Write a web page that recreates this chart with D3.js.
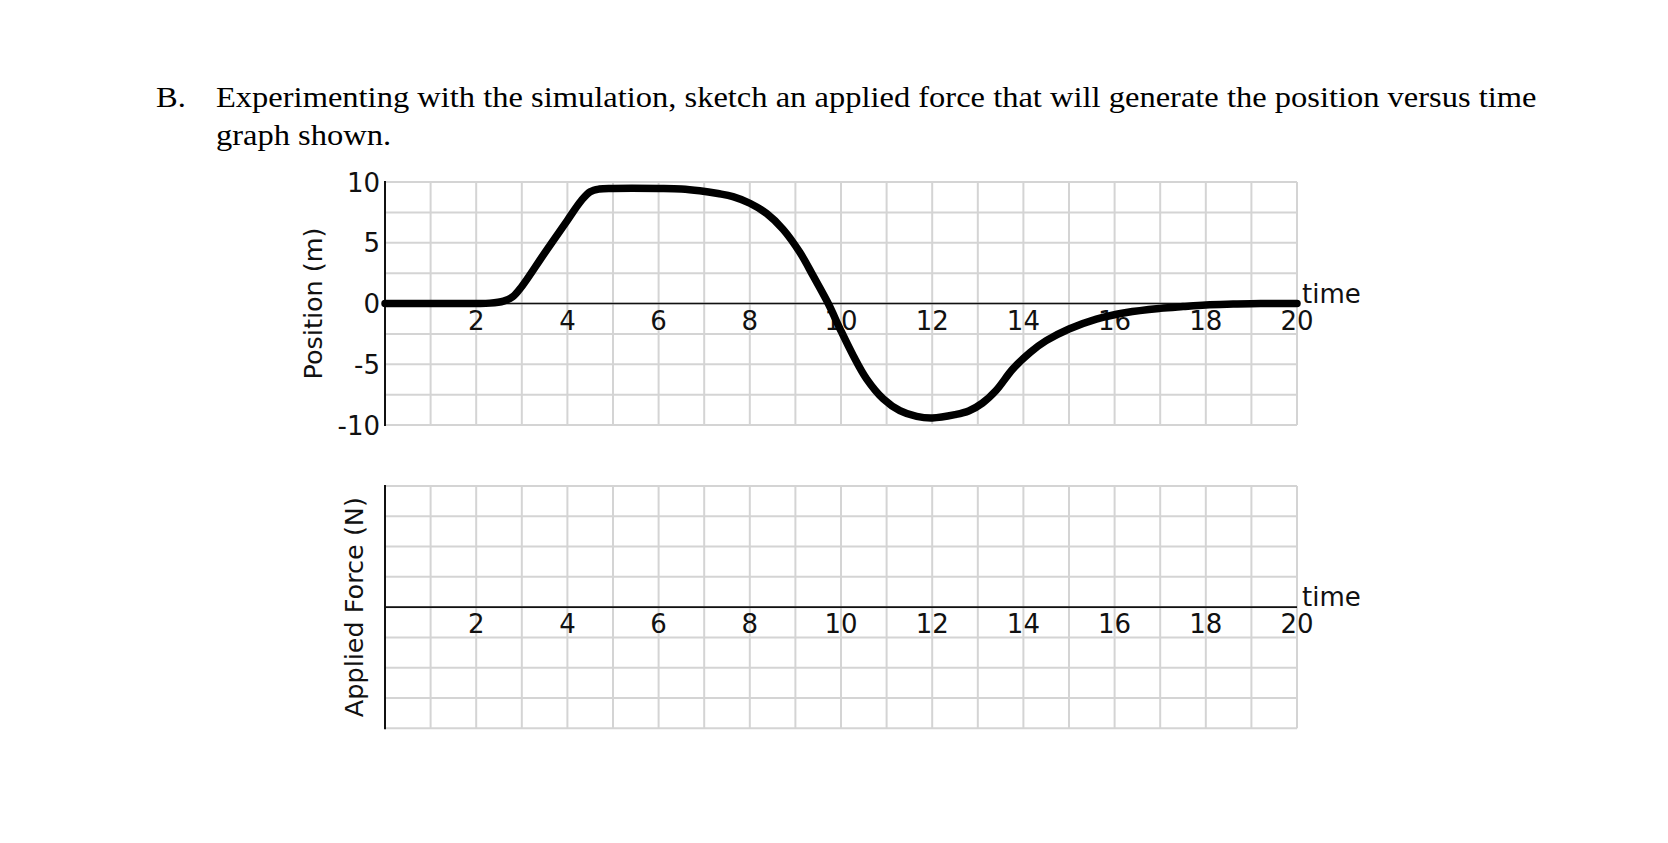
<!DOCTYPE html>
<html>
<head>
<meta charset="utf-8">
<script src="https://cdn.jsdelivr.net/npm/d3@7"></script>
<style>
  html, body { margin: 0; padding: 0; background: white; }
  svg { display: block; }
</style>
</head>
<body>
<svg id="canvas"></svg>
<script>
const WIDTH = 1668;
const HEIGHT = 843;

// Question text
const questionLabel = "B.";
const questionLines = [
    "Experimenting with the simulation, sketch an applied force that will generate the position versus time",
    "graph shown."
];

// Axes
const timeTicks = [2, 4, 6, 8, 10, 12, 14, 16, 18, 20];
const timeGrid = [0, 1, 2, 3, 4, 5, 6, 7, 8, 9, 10, 11, 12, 13, 14, 15, 16, 17, 18, 19, 20];
const positionTicks = [10, 5, 0, -5, -10];
const valueGrid = [-10, -7.5, -5, -2.5, 0, 2.5, 5, 7.5, 10];

// Position vs time
const times = [0, 1, 2, 2.3, 2.6, 2.8, 3.0, 3.5, 4.0, 4.3, 4.5, 4.7, 5.0, 6.0, 6.5, 6.9, 7.3, 7.63, 8.0, 8.37,
    8.73, 9.1, 9.39, 9.72, 9.98, 10.27, 10.56, 10.93, 11.29, 11.66, 12.0, 12.5, 12.8, 13.1, 13.4, 13.77, 14.15, 14.5, 15.0, 15.6, 16.26,
    17.0, 17.5, 18.0, 18.6, 19.2, 20.0];
const positions = [0, 0, 0, 0.03, 0.2, 0.55, 1.4, 4.15, 6.85, 8.45, 9.2, 9.42, 9.47, 9.47, 9.43, 9.28, 9.05, 8.8, 8.25, 7.4,
    6.1, 4.19, 2.27, 0, -2.1, -4.3, -6.2, -7.86, -8.82, -9.29, -9.42, -9.15, -8.85, -8.2, -7.16, -5.38, -4.02, -3.06, -2.1, -1.28, -0.74,
    -0.4, -0.25, -0.12, -0.05, 0, 0];

const svg = d3.select("svg").attr("width", WIDTH).attr("height", HEIGHT);

// Question (the scanned serif runs wider than Liberation Serif, so stretch it to the same width)
let question = svg.append("g");
question.append("text")
    .attr("x", 0).attr("y", 107)
    .attr("font-family", "Liberation Serif, Times New Roman, serif")
    .attr("font-size", 29)
    .text(questionLabel);
let firstLine;
questionLines.forEach((line, i) => {
    let t = question.append("text")
        .attr("x", 60).attr("y", 107 + i * 38)
        .attr("font-family", "Liberation Serif, Times New Roman, serif")
        .attr("font-size", 29)
        .text(line);
    if (i == 0) firstLine = t;
});
let stretch = 1321 / firstLine.node().getComputedTextLength();
question.selectAll("text").attr("x", function () {
    return +d3.select(this).attr("x") / stretch;
});
question.attr("transform", "translate(156,0) scale(" + stretch + ",1)");

const x = d3.scaleLinear().domain([0, 20]).range([385, 1297]);
const yPos = d3.scaleLinear().domain([-10, 10]).range([425, 182]);
const yForce = d3.scaleLinear().domain([-10, 10]).range([728.3, 486]);

function drawPanel(y, axisLabel, labelX, showYTicks) {
    let g = svg.append("g");
    // grid
    g.selectAll("line.v")
        .data(timeGrid)
        .enter()
        .append("line")
        .attr("x1", (d) => x(d)).attr("x2", (d) => x(d))
        .attr("y1", y(-10)).attr("y2", y(10))
        .attr("stroke", "#d4d4d4")
        .attr("stroke-width", 2);
    g.selectAll("line.h")
        .data(valueGrid)
        .enter()
        .append("line")
        .attr("x1", x(0)).attr("x2", x(20))
        .attr("y1", (d) => y(d)).attr("y2", (d) => y(d))
        .attr("stroke", "#d4d4d4")
        .attr("stroke-width", 2);
    // axes
    g.append("line")
        .attr("x1", x(0)).attr("x2", x(20))
        .attr("y1", y(0)).attr("y2", y(0))
        .attr("stroke", "#111")
        .attr("stroke-width", 1.6);
    g.append("line")
        .attr("x1", x(0)).attr("x2", x(0))
        .attr("y1", y(-10) + 1).attr("y2", y(10) - 1)
        .attr("stroke", "#111")
        .attr("stroke-width", 2);
    // time tick labels
    g.selectAll("text.tick")
        .data(timeTicks)
        .enter()
        .append("text")
        .attr("x", (d) => x(d))
        .attr("y", y(0) + 26)
        .attr("text-anchor", "middle")
        .attr("font-family", "DejaVu Sans, sans-serif")
        .attr("font-size", 26)
        .attr("fill", "#111")
        .text((d) => d);
    g.append("text")
        .attr("x", x(20) + 5)
        .attr("y", y(0) - 1)
        .attr("font-family", "DejaVu Sans, sans-serif")
        .attr("font-size", 26)
        .attr("fill", "#111")
        .text("time");
    if (showYTicks) {
        g.selectAll("text.ytick")
            .data(positionTicks)
            .enter()
            .append("text")
            .attr("x", 380)
            .attr("y", (d) => y(d) + 9.5)
            .attr("text-anchor", "end")
            .attr("font-family", "DejaVu Sans, sans-serif")
            .attr("font-size", 26)
            .attr("fill", "#111")
            .text((d) => d);
    }
    let mid = (y(-10) + y(10)) / 2;
    g.append("text")
        .attr("transform", "translate(" + labelX + "," + mid + ") rotate(-90)")
        .attr("text-anchor", "middle")
        .attr("font-family", "DejaVu Sans, sans-serif")
        .attr("font-size", 25.5)
        .attr("fill", "#111")
        .text(axisLabel);
    return g;
}

let positionPanel = drawPanel(yPos, "Position (m)", 322, true);
drawPanel(yForce, "Applied Force (N)", 363, false);

// position curve
let curve = d3.line()
    .x((d) => x(d[0]))
    .y((d) => yPos(d[1]))
    .curve(d3.curveCatmullRom.alpha(0.5));
positionPanel.append("path")
    .datum(times.map((t, i) => [t, positions[i]]))
    .attr("d", curve)
    .attr("fill", "none")
    .attr("stroke", "black")
    .attr("stroke-width", 7.5)
    .attr("stroke-linecap", "round")
    .attr("stroke-linejoin", "round");
</script>
</body>
</html>
